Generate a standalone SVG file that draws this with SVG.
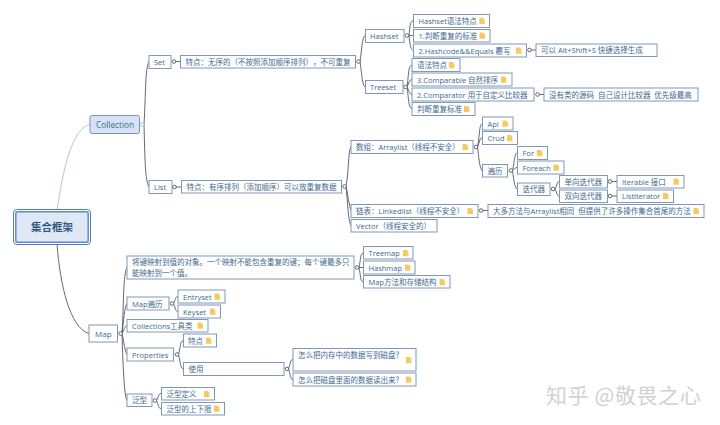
<svg xmlns="http://www.w3.org/2000/svg" width="720" height="425" viewBox="0 0 720 425">
<style>
text{font-family:"Open Sans","Noto Sans CJK SC",sans-serif;font-size:7.500px;fill:#41698f;white-space:pre;text-spacing-trim:space-all}
.n{fill:#fff;stroke:#7e98b8;stroke-width:1}
.c{fill:none;stroke:#55585c;stroke-width:.9}
.o{fill:#fff;stroke:#55585c;stroke-width:.9}
.wm{font-family:"Noto Sans CJK SC",sans-serif;font-size:21px;fill:#d2d2d2;letter-spacing:.6px}
</style>
<defs>
<path id="note" d="M0 0H3.600L5.400 1.800V6.200H0Z" fill="#f5c964"/>
</defs>
<rect width="720" height="425" fill="#fff"/>
<g id="connectors">
<path d="M57 210C63 170 72 128 90 124.500" fill="none" stroke="#a9bfdb" stroke-width=".9"/>
<path d="M57 244C60 285 70 328 89 333.500" class="c"/>
<path class="c" d="M144 124.500C146 90 145 70 149 61.500M144 124.500C145 160 145 180 149 187M172 61.500H180M172 187H181"/>
<path class="c" d="M360 61.500C362 48 362 38 365 35.500M360 61.500C362 75 362 84 365 87"/>
<path class="c" d="M346 186.500C349 170 348 152 351 146.500M346 186.500C348 195 349 205 351 210.500M346 186.500C348 205 348 220 351 225.500"/>
<path class="c" d="M409 35.500C410 26 410 22 413 20.500M409 35.500H413M409 35.500C410 44 410 48 413 50.500"/>
<path class="c" d="M407 87C409 72 408 67 412 65M407 87C409 83 409 80 412 79.500M407 87C409 90 409 94 412 94.500M407 87C409 100 408 106 412 109"/>
<path class="c" d="M531 50H536M539 94.500H544M483 210.500H488M612 181.500H617M612 196H617"/>
<path class="c" d="M477.500 147C480 133 479 126 482 123.500M477.500 147C480 142 479 139 482 137.500M477.500 147C479 157 479 166 482 170.500"/>
<path class="c" d="M512.500 170.500C515 160 514 155 517 152.500M512.500 170.500C514 169 515 168 517 167.500M512.500 170.500C514 180 514 186 517 189"/>
<path class="c" d="M555 189C557 185 557 182 559 181.500M555 189C557 193 557 196 559 196"/>
<path class="c" d="M122 333.500C124 300 123 275 127 267.500M122 333.500C124 320 124 308 127 303.500M122 333.500C124 330 125 326 127 325.500M122 333.500C124 342 125 352 127 354.500M122 333.500C123 365 124 395 127 400.500"/>
<path class="c" d="M359 267.500C361 258 360 255 363 253M359 267.500H363M359 267.500C361 277 360 280 363 282"/>
<path class="c" d="M173.500 303.500C176 299 175 297 178 296.500M173.500 303.500C176 309 175 311 178 311.500"/>
<path class="c" d="M178.500 354.500C181 345 180 342 183 340.500M178.500 354.500C181 364 180 367 183 369"/>
<path class="c" d="M288.500 369C291 362 290 360 293 359.500M288.500 369C291 376 290 379 293 379.500"/>
<path class="c" d="M156.500 400.500C159 396 158 394 161 393.500M156.500 400.500C159 406 158 408 161 408.500"/>
<circle cx="142" cy="124.500" r="1.700" fill="#fff" stroke="#a9bfdb" stroke-width=".9"/>
<circle class="o" cx="174" cy="61.500" r="1.800"/><circle class="o" cx="174.500" cy="187" r="1.800"/>
<circle class="o" cx="358.500" cy="61.500" r="1.800"/><circle class="o" cx="344.500" cy="186.500" r="1.800"/>
<circle class="o" cx="407" cy="35.500" r="1.800"/><circle class="o" cx="405.500" cy="87" r="1.800"/>
<circle class="o" cx="529.500" cy="50" r="1.800"/><circle class="o" cx="537.500" cy="94.500" r="1.800"/>
<circle class="o" cx="476" cy="147" r="1.800"/><circle class="o" cx="511" cy="170.500" r="1.800"/>
<circle class="o" cx="553" cy="189" r="1.800"/><circle class="o" cx="610" cy="181.500" r="1.800"/>
<circle class="o" cx="610" cy="196" r="1.800"/><circle class="o" cx="481" cy="210.500" r="1.800"/>
<circle class="o" cx="120.500" cy="333.500" r="1.800"/><circle class="o" cx="357" cy="267.500" r="1.800"/>
<circle class="o" cx="172" cy="303.500" r="1.800"/><circle class="o" cx="177" cy="354.500" r="1.800"/>
<circle class="o" cx="287" cy="369" r="1.800"/><circle class="o" cx="155" cy="400.500" r="1.800"/>
</g>
<g id="root"><rect x="13.500" y="209.500" width="77" height="35" rx="3.500" fill="#fff" stroke="#4f7cc0" stroke-width="1"/><rect x="15.800" y="211.800" width="72.400" height="30.400" rx="2" fill="#dfe8f5" stroke="#5f8aca" stroke-width="1.500"/><text x="52" y="231" text-anchor="middle" style="font-size:10.500px;font-weight:700;fill:#33597f">集合框架</text></g>
<g id="collection"><rect x="90" y="115.500" width="49.500" height="18" rx="2" fill="#d6e3f4" stroke="#7497c6"/><text x="96" y="127.500" style="font-size:8.300px">Collection</text></g>
<g id="set"><rect class="n" x="149" y="55.500" width="22" height="13"/><text x="154" y="65">Set</text></g>
<g id="set-feature"><rect class="n" x="180.500" y="55.500" width="175" height="12.500"/><text x="185.500" y="64.500">特点：无序的（不按照添加顺序排列），不可重复</text></g>
<g id="list"><rect class="n" x="149" y="180.500" width="23" height="13"/><text x="154" y="190">List</text></g>
<g id="list-feature"><rect class="n" x="181.500" y="180.500" width="160" height="12.500"/><text x="186.500" y="189.500">特点：有序排列（添加顺序）可以放重复数据</text></g>
<g id="hashset"><rect class="n" x="365.500" y="29.500" width="38.500" height="13"/><text x="370" y="39">Hashset</text></g>
<g id="hashset-syntax"><rect class="n" x="413.500" y="14.500" width="76" height="13"/><text x="418.500" y="24">Hashset语法特点</text><use href="#note" x="479.300" y="17.800"/></g>
<g id="hashset-1"><rect class="n" x="413.500" y="29.500" width="76.500" height="12.500"/><text x="418.500" y="38.500">1.判断重复的标准</text><use href="#note" x="479.500" y="32.500"/></g>
<g id="hashset-2"><rect class="n" x="413.500" y="44" width="113" height="13"/><text x="418.500" y="53.500">2.Hashcode&amp;&amp;Equals 覆写</text><use href="#note" x="516" y="47.500"/></g>
<g id="hashset-tip"><rect class="n" x="536" y="44" width="121" height="12.500"/><text x="541" y="53">可以 Alt+Shift+S 快捷选择生成</text></g>
<g id="treeset"><rect class="n" x="365.500" y="80.500" width="37.500" height="13"/><text x="370" y="90">Treeset</text></g>
<g id="treeset-syntax"><rect class="n" x="412" y="58.500" width="48" height="13"/><text x="417" y="68">语法特点</text><use href="#note" x="449" y="62"/></g>
<g id="treeset-3"><rect class="n" x="412" y="73" width="100" height="13"/><text x="417" y="82.500">3.Comparable 自然排序</text><use href="#note" x="501" y="76.500"/></g>
<g id="treeset-2"><rect class="n" x="412" y="88" width="122" height="13"/><text x="417" y="97.500">2.Comparator 用于自定义比较器</text></g>
<g id="treeset-tip"><rect class="n" x="544" y="88" width="154" height="13"/><text x="549" y="97.500">没有类的源码  自己设计比较器  优先级最高</text></g>
<g id="treeset-dup"><rect class="n" x="412" y="102.500" width="63" height="13"/><text x="417" y="112">判断重复标准</text><use href="#note" x="464" y="106"/></g>
<g id="arraylist"><rect class="n" x="351" y="140.500" width="122" height="13"/><text x="356" y="150">数组：Arraylist（线程不安全）</text><use href="#note" x="462.500" y="144"/></g>
<g id="api"><rect class="n" x="482.500" y="117" width="30.500" height="13"/><text x="487.500" y="126.500">Api</text><use href="#note" x="502.500" y="120.500"/></g>
<g id="crud"><rect class="n" x="482.500" y="131.500" width="35" height="13"/><text x="487.500" y="141">Crud</text><use href="#note" x="507" y="135"/></g>
<g id="traverse"><rect class="n" x="482.500" y="164.500" width="25" height="12.500"/><text x="487.500" y="173.500">遍历</text></g>
<g id="for"><rect class="n" x="517.500" y="146.500" width="30" height="13"/><text x="522.500" y="156">For</text><use href="#note" x="537" y="150"/></g>
<g id="foreach"><rect class="n" x="517.500" y="161" width="46.500" height="13"/><text x="522.500" y="170.500">Foreach</text><use href="#note" x="553.500" y="164.500"/></g>
<g id="iterator"><rect class="n" x="517.500" y="183" width="32.500" height="12.500"/><text x="522.500" y="192">迭代器</text></g>
<g id="single-iter"><rect class="n" x="559.500" y="175.500" width="48" height="12.500"/><text x="564.500" y="184.500">单向迭代器</text></g>
<g id="double-iter"><rect class="n" x="559.500" y="190" width="48" height="12.500"/><text x="564.500" y="199">双向迭代器</text></g>
<g id="iterable"><rect class="n" x="617" y="175.500" width="67" height="12.500"/><text x="622" y="184.500">Iterable 接口</text><use href="#note" x="673.500" y="178.500"/></g>
<g id="listiterator"><rect class="n" x="617" y="190" width="56.500" height="12.500"/><text x="622" y="199">Listiterator</text><use href="#note" x="663" y="193"/></g>
<g id="linkedlist"><rect class="n" x="351" y="204.500" width="127" height="13"/><text x="356" y="214">链表：Linkedlist（线程不安全）</text><use href="#note" x="467.500" y="208"/></g>
<g id="linkedlist-tip"><rect class="n" x="488" y="204.500" width="216" height="13"/><text x="493" y="214">大多方法与Arraylist相同  但提供了许多操作集合首尾的方法</text><use href="#note" x="693.500" y="208"/></g>
<g id="vector"><rect class="n" x="351" y="219.500" width="86" height="12.500"/><text x="356" y="228.500">Vector（线程安全的）</text></g>
<g id="map"><rect class="n" x="89" y="325" width="28.500" height="17"/><text x="95" y="336.500" style="font-size:8px">Map</text></g>
<g id="map-desc"><rect class="n" x="127" y="256" width="227" height="23"/><text x="132" y="265">将键映射到值的对象。一个映射不能包含重复的键；每个键最多只</text><text x="132" y="275.500">能映射到一个值。</text></g>
<g id="treemap"><rect class="n" x="363.500" y="246.500" width="49.500" height="12.500"/><text x="368.500" y="255.500">Treemap</text><use href="#note" x="403" y="250"/></g>
<g id="hashmap"><rect class="n" x="363.500" y="261" width="51.500" height="13"/><text x="368.500" y="270.500">Hashmap</text><use href="#note" x="405" y="264.500"/></g>
<g id="map-methods"><rect class="n" x="363.500" y="275.500" width="86.500" height="12.500"/><text x="368.500" y="284.500">Map方法和存储结构</text><use href="#note" x="439.500" y="279"/></g>
<g id="map-traverse"><rect class="n" x="127" y="297" width="42" height="13"/><text x="132" y="306.500">Map遍历</text></g>
<g id="entryset"><rect class="n" x="178" y="290" width="47" height="13"/><text x="183" y="299.500">Entryset</text><use href="#note" x="214.500" y="293.500"/></g>
<g id="keyset"><rect class="n" x="178" y="305" width="42.500" height="13"/><text x="183" y="314.500">Keyset</text><use href="#note" x="210" y="308.500"/></g>
<g id="collections"><rect class="n" x="127" y="319.500" width="81" height="12.500"/><text x="132" y="328.500">Collections工具类</text><use href="#note" x="197.500" y="322.500"/></g>
<g id="properties"><rect class="n" x="127" y="348" width="46.500" height="13"/><text x="132" y="357.500">Properties</text></g>
<g id="prop-feature"><rect class="n" x="183.500" y="334" width="33" height="13"/><text x="188" y="343.500">特点</text><use href="#note" x="206" y="337.500"/></g>
<g id="prop-use"><rect class="n" x="183.500" y="362.500" width="100.500" height="13"/><text x="188.500" y="372">使用</text></g>
<g id="prop-write"><rect class="n" x="293" y="348.500" width="123" height="22.500"/><text x="298" y="357.500">怎么把内存中的数据写到磁盘？</text><use href="#note" x="406" y="357"/></g>
<g id="prop-read"><rect class="n" x="293" y="373" width="123" height="13"/><text x="298" y="382.500">怎么把磁盘里面的数据读出来？</text><use href="#note" x="406" y="376.500"/></g>
<g id="generic"><rect class="n" x="127" y="394" width="25" height="12.500"/><text x="132" y="403">泛型</text></g>
<g id="generic-def"><rect class="n" x="161.500" y="387.500" width="53" height="12.500"/><text x="166.500" y="396.500">泛型定义</text><use href="#note" x="204" y="391"/></g>
<g id="generic-bound"><rect class="n" x="161.500" y="402.500" width="63" height="12.500"/><text x="166.500" y="411.500">泛型的上下限</text><use href="#note" x="214" y="405.500"/></g>
<text class="wm" x="546" y="403">知乎 @敬畏之心</text>
</svg>
